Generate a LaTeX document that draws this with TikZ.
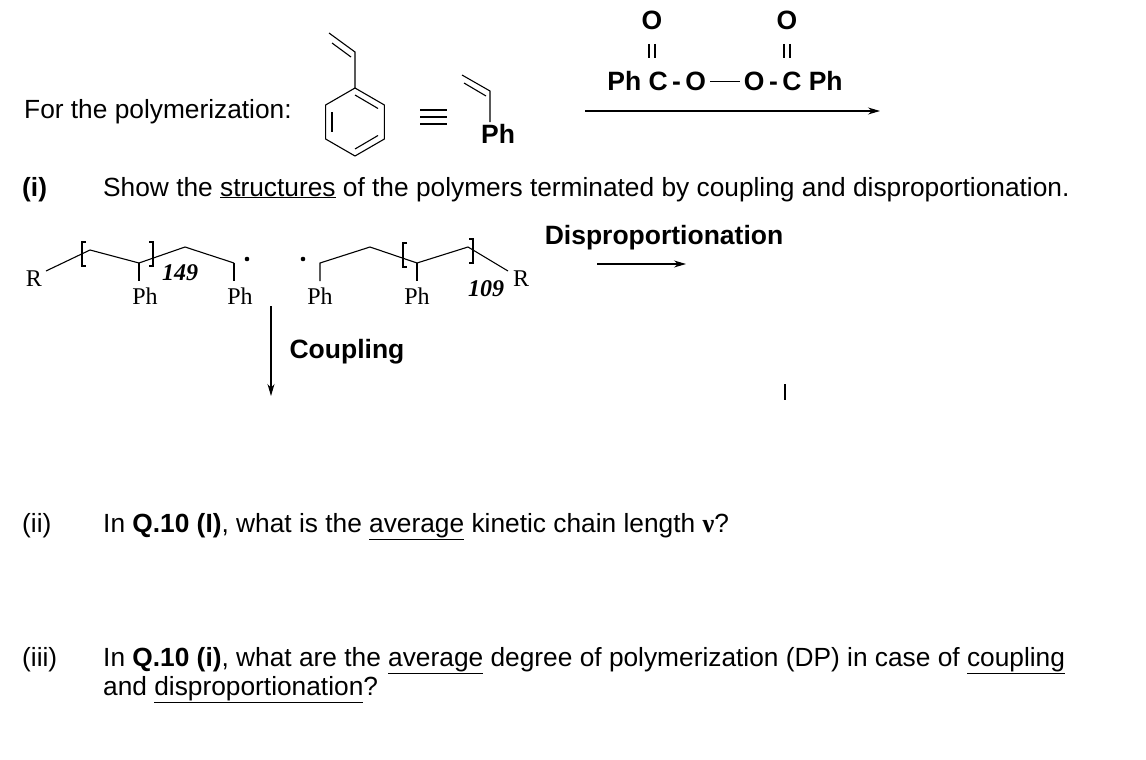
\documentclass[tikz,border=0pt]{standalone}
\usepackage{fontspec}
\setmainfont{Liberation Sans}
\newfontfamily\tnr{Liberation Serif}
\usetikzlibrary{arrows.meta}
\tikzset{
 txt/.style={anchor=base west,inner sep=0pt,font=\fontsize{26.3}{31}\selectfont},
 btxt/.style={anchor=base,inner sep=0pt,font=\fontsize{26.5}{31}\selectfont\bfseries},
 ser/.style={anchor=base,inner sep=0pt,font=\fontsize{24}{28}\selectfont\tnr},
 bond/.style={line width=1.1pt},
 brk/.style={line width=2.8pt},
}
\begin{document}
\begin{tikzpicture}[x=1pt,y=-1pt]
\useasboundingbox (0,0) rectangle (1146,760);
\fill[white] (0,0) rectangle (1146,760);
\node[txt] (t0) at (24,118) {For the polymerization:};
% benzene
\draw[bond] (355,88) -- (384.4,105) -- (384.4,139) -- (355,156) -- (325.6,139) -- (325.6,105) -- cycle;
\draw[bond] (355,95) -- (378,108.5);
\draw[bond] (378,135.5) -- (355,149);
\draw[bond] (332,112) -- (332,132);
\draw[bond] (355,88) -- (355,52) -- (329,33);
\draw[bond] (351,57) -- (332,43) ;
% equiv
\draw[bond] (420,110)--(447,110) (420,117)--(447,117) (420,124)--(447,124);
% small styrene
\node[btxt] (ph0) at (498,143) {Ph};
\draw[bond] (490,122) -- (490,91) -- (462,75);
\draw[bond] (486,96) -- (464,83);
% peroxide
\node[btxt] (per) at (725,90) {Ph C\,-\,O\,\rule[0.3em]{1.1em}{1.2pt}\,O\,-\,C Ph};
\node[btxt] (o1) at (652,30) {O};
\node[btxt] (o2) at (787,30) {O};
\draw[bond] (649,44)--(649,58) (655,44)--(655,58);
\draw[bond] (784,44)--(784,58) (790,44)--(790,58);
\coordinate (a1) at (585,111); \coordinate (a2) at (880,111);
\draw[bond,-{Stealth[length=12pt,width=7pt]}] (a1) -- (a2);
% (i)
\node[txt] (i) at (22,196) {\bfseries(i)};
\node[txt] (q1) at (103,196) {Show the \underline{structures} of the polymers terminated by coupling and disproportionation.};
% chain left
\node[ser] (R1) at (34,286) {R};
\draw[bond] (46,271)--(90,250)--(139,263)--(185,247)--(234,263);
\draw[bond] (139,263)--(139,281) (234,263)--(234,281);
\node[ser] (p1) at (145,304) {Ph};
\node[ser] (p2) at (240,304) {Ph};
\draw[brk] (86,242)--(82,242)--(82,266)--(86,266);
\draw[brk] (149,242)--(153,242)--(153,266)--(149,266);
\node[ser,font=\fontsize{24}{28}\selectfont\tnr\bfseries\itshape] (n1) at (180,280) {149};
\fill (247,259) circle (2.3);
\fill (303,259) circle (2.3);
% chain right
\draw[bond] (320,281)--(320,263)--(370,247)--(417,263)--(468,247)--(508,271);
\draw[bond] (417,263)--(417,281);
\node[ser] (p3) at (320,304) {Ph};
\node[ser] (p4) at (417,304) {Ph};
\draw[brk] (407,243)--(403,243)--(403,267)--(407,267);
\draw[brk] (469,239)--(473,239)--(473,263)--(469,263);
\node[ser,font=\fontsize{24}{28}\selectfont\tnr\bfseries\itshape] (n2) at (486,296) {109};
\node[ser] (R2) at (521,286) {R};
% disproportionation
\node[btxt] (dis) at (664,244) {Disproportionation};
\coordinate (d1) at (597,264); \coordinate (d2) at (686,264);
\draw[bond,-{Stealth[length=12pt,width=7pt]}] (d1) -- (d2);
% coupling
\coordinate (c1) at (271,306); \coordinate (c2) at (271,396);
\draw[bond,-{Stealth[length=12pt,width=7pt]}] (c1) -- (c2);
\node[btxt] (cp) at (347,358) {Coupling};
\draw[bond] (785,384)--(785,400);
% (ii)
\node[txt] (ii) at (22,532) {(ii)};
\node[txt] (q2) at (103,532) {In \textbf{Q.10 (I)}, what is the \underline{average} kinetic chain length {\tnr\bfseries ν}?};
% (iii)
\node[txt] (iii) at (22,666) {(iii)};
\node[txt] (q3) at (103,666) {In \textbf{Q.10 (i)}, what are the \underline{average} degree of polymerization (DP) in case of \underline{coupling}};
\node[txt] (q3b) at (103,695) {and \underline{disproportionation}?};
\end{tikzpicture}
\end{document}
